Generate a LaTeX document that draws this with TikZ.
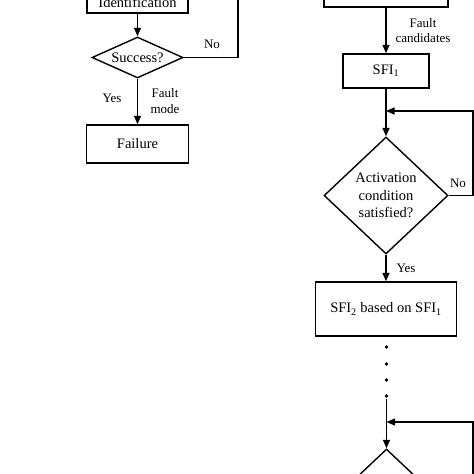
\documentclass[tikz,border=0pt]{standalone}
\usepackage{fontspec}
\setmainfont{Liberation Serif}
\usetikzlibrary{shapes,arrows,positioning,calc,arrows.meta}

\tikzset{
  >={Triangle[length=8.5pt,width=7pt]},
  procbox/.style={draw, rectangle, inner sep=0pt, align=center,
    font=\fontsize{14.5}{17.5}\selectfont},
  decision/.style={draw, diamond, aspect=1, inner sep=0pt, align=center,
    font=\fontsize{14.5}{17.5}\selectfont},
  lbl/.style={align=center, inner sep=0pt, font=\fontsize{13}{15.5}\selectfont},
  dot/.style={circle, fill, inner sep=0pt, minimum size=3.6pt}
}

\begin{document}
\begin{tikzpicture}[x=1pt,y=-1pt,line width=1.4pt]
    \useasboundingbox (0,0) rectangle (474,474);
    \clip (0,0) rectangle (474,474);

    % Left branch
    \node[procbox, minimum width=101pt, minimum height=22pt] (ident) at (137.5,2) {Identification};
    \node[decision, aspect=2.2, minimum width=91pt, minimum height=41pt] (success) at (137.5,57.5) {Success?};
    \node[procbox, minimum width=102pt, minimum height=38pt] (failure) at (137.5,144) {Failure};

    \draw[->] (ident) -- (success);
    \draw[->] (success) -- (failure);
    \node[lbl] (yes1) at (112,98) {Yes};
    \node[lbl] (mode) at (165,101) {Fault\\mode};

    % No -> back to the top
    \coordinate (up) at (238,-20);
    \draw (success.east) -| (up);
    \node[lbl] (no1) at (212,44) {No};

    % Right branch
    \node[procbox, minimum width=124pt, minimum height=40pt] (detect) at (386,-13) {};
    \node[procbox, minimum width=86pt, minimum height=34pt] (sfi1) at (386,71) {SFI\textsubscript{1}};
    \node[decision, minimum width=124pt, minimum height=117pt] (act) at (386,195.5)
        {Activation\\condition\\satisfied?};
    \node[procbox, minimum width=141pt, minimum height=54pt] (sfi2) at (386,309)
        {SFI\textsubscript{2} based on SFI\textsubscript{1}};

    \draw[->] (detect) -- (sfi1);
    \node[lbl] (cand) at (423,30.5) {Fault\\candidates};
    \draw[->] (sfi1) -- (act);

    % Loop 1
    \coordinate (j1) at (386,111);
    \coordinate (r1) at (473,111);
    \draw[->] (act.east) -| (r1) -- (j1);
    \node[lbl] (no2) at (458,183) {No};

    \draw[->] (act) -- (sfi2);
    \node[lbl] (yes2) at (406,268) {Yes};

    % Dots
    \foreach \i/\y in {1/347,2/364,3/380,4/396}
        \node[dot] (d\i) at (386.5,\y) {};

    % Next decision
    \node[decision, minimum width=124pt, minimum height=117pt] (act2) at (386.5,507.5) {};
    \draw[->] (d4) -- (act2);

    % Loop 2
    \coordinate (j2) at (386.5,422);
    \coordinate (r2) at (473,422);
    \draw[->] (act2.east) -| (r2) -- (j2);
\end{tikzpicture}
\end{document}
